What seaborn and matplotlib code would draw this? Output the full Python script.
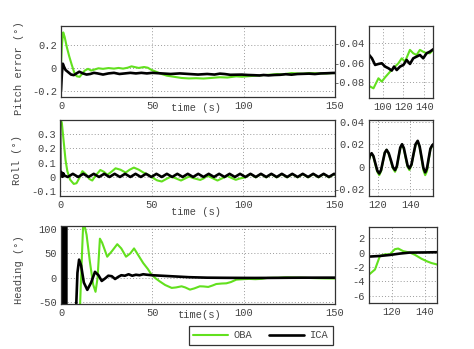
import matplotlib
matplotlib.use("Agg")
import matplotlib.pyplot as plt
import seaborn as sns
import pandas as pd
from matplotlib.ticker import FuncFormatter

# ---------------- data ----------------
series_names = ["OBA", "ICA"]
series_colors = {"OBA": "#62e01e", "ICA": "#000000"}

# Pitch error (deg)
t_pitch_oba = [0, 0.5, 1.2, 2, 3.2, 4.5, 5.8, 7.2, 8.6, 10.2, 11.5, 13, 14.8, 16.5, 18.5, 20.5, 23, 26,
               29, 31.5, 34, 36.5, 38.6, 40.5, 42.5, 45.5, 47.5, 49.6, 52, 55, 58, 62, 66, 70, 74, 78, 82, 85,
               87, 91.1, 95.9, 99.1, 102.3, 107.1, 110.3, 115.1, 118.3, 121.5, 126.2, 129.4, 132.6, 135.8,
               140.6, 145.4, 148.6, 152]
pitch_oba = [0.02, 0.2, 0.31, 0.27, 0.18, 0.1, 0.03, -0.04, -0.075, -0.08, -0.055, -0.025, -0.01, -0.025,
             -0.015, -0.005, -0.01, -0.003, -0.008, -0.002, -0.008, 0.0, 0.012, 0.005, -0.002, 0.006, 0.0,
             -0.02, -0.035, -0.055, -0.07, -0.08, -0.09, -0.094, -0.092, -0.095, -0.09, -0.086,
             -0.0838, -0.0862, -0.0759, -0.0793, -0.0749, -0.0691, -0.0656, -0.0605, -0.0554, -0.0588,
             -0.0468, -0.0503, -0.052, -0.0468, -0.0496, -0.0503, -0.0468, -0.047]

t_pitch_ica = [0, 0.5, 1.0, 1.6, 2.5, 4, 5.5, 7, 8.5, 10, 12, 14, 16, 18, 20, 23, 26, 29, 32, 35, 38, 41,
               44, 47, 50, 55, 60, 65, 70, 75, 80, 84,
               87, 89.6, 92.7, 95.9, 99.1, 102.3, 105.5, 108.7, 110.9, 113.5, 116.7, 119.9, 123, 126.2,
               129.4, 132.6, 135.8, 139, 142.2, 145.4, 148.6, 152]
pitch_ica = [-0.2, -0.05, 0.035, 0.01, -0.02, -0.04, -0.06, -0.065, -0.05, -0.035, -0.05, -0.06, -0.055,
             -0.045, -0.05, -0.06, -0.05, -0.045, -0.055, -0.05, -0.045, -0.05, -0.045, -0.05, -0.045,
             -0.05, -0.055, -0.05, -0.055, -0.06, -0.055, -0.06,
             -0.052, -0.0554, -0.0622, -0.0612, -0.0605, -0.0639, -0.0656, -0.068, -0.0639, -0.0674,
             -0.0639, -0.0622, -0.0571, -0.0612, -0.0554, -0.0537, -0.052, -0.0554, -0.0503, -0.0486,
             -0.0462, -0.045]

# Roll (deg)
t_roll_oba = [0, 1, 2, 3, 4, 5.5, 7.5, 9, 10.5, 12.2, 14, 16, 17.6, 19.5, 22, 24, 25.8, 28, 30.3, 33, 35.8,
              38, 40.3, 43, 45.5, 48.5, 51, 53, 55.5, 58, 60.6, 63, 66, 68.5, 70.4, 73, 76.5, 78.5, 80.4, 83,
              85.9, 88.5, 91.3, 93.5, 95.9, 98, 101.1, 103.9, 106.8, 109.6, 112.5, 115.3, 118.2, 121.0,
              123.9, 126.7, 129.6, 132.4, 135.3, 138.1, 141.0, 143.8, 146.7, 149.5, 152.4]
roll_oba = [0.42, 0.38, 0.25, 0.12, 0.04, -0.02, -0.05, -0.045, -0.01, 0.04, 0.02, -0.015, -0.026, 0.01,
            0.048, 0.035, 0.014, 0.035, 0.06, 0.05, 0.03, 0.05, 0.065, 0.05, 0.03, 0.012, -0.01, -0.025,
            -0.033, -0.015, 0.002, -0.01, -0.026, -0.01, 0.002, -0.01, -0.022, -0.01, 0.008, -0.008,
            -0.026, -0.01, 0.006, -0.008, -0.021, -0.012, -0.004, 0.02, -0.004, 0.02, -0.004, 0.02,
            -0.004, 0.02, -0.004, 0.02, -0.004, 0.02, -0.004, 0.02, -0.004, 0.02, -0.004, 0.02, -0.004]

t_roll_ica = [0, 0.15, 0.4, 0.7, 1.0, 1.4, 1.8, 2.3,
              4.2, 7.0, 9.9, 12.7, 15.6, 18.4, 21.3, 24.1, 27.0, 29.8, 32.7, 35.5, 38.4, 41.2, 44.1, 46.9,
              49.8, 52.6, 55.5, 58.3, 61.2, 64.0, 66.9, 69.7, 72.6, 75.4, 78.3, 81.1, 84.0, 86.8, 89.7,
              92.5, 95.4, 98.2, 101.1, 103.9, 106.8, 109.6, 112.5, 115.3, 118.2, 121.0, 123.9, 126.7,
              129.6, 132.4, 135.3, 138.1, 141.0, 143.8, 146.7, 149.5, 152.4]
roll_ica = [0.45, 0.0, 0.035, 0.01, 0.03, 0.0, 0.025, 0.01,
            -0.001, 0.021, -0.001, 0.021, -0.001, 0.021, -0.001, 0.021, -0.001, 0.021, -0.001, 0.021,
            -0.001, 0.021, -0.001, 0.021, -0.001, 0.021, -0.001, 0.021, -0.001, 0.021, -0.001, 0.021,
            -0.001, 0.021, -0.001, 0.021, -0.001, 0.021, -0.001, 0.021, -0.001, 0.021, -0.001, 0.021,
            -0.001, 0.021, -0.001, 0.021, -0.001, 0.021, -0.001, 0.021, -0.001, 0.021, -0.001, 0.021,
            -0.001, 0.021, -0.001, 0.021, -0.001]

# Roll zoom (inset)
t_roll_zoom = [114.3, 115.3, 116.3, 117.4, 118.6, 119.8, 121.0, 122.1, 123.2, 124.4, 125.5, 126.8, 128.1,
               129.4, 130.7, 131.8, 132.8, 133.9, 135.0, 136.1, 137.2, 138.4, 139.5, 140.8, 142.0, 143.3,
               144.6, 145.8, 146.9, 148.1, 149.2, 150.3, 151.3, 152.4, 153.5, 155.0]
roll_zoom_ica = [0.0045, 0.010, 0.012, 0.0095, 0.003, -0.0035, -0.006, -0.003, 0.0045, 0.0125, 0.015,
                 0.012, 0.006, -0.0005, -0.003, 0.0005, 0.0085, 0.017, 0.020, 0.0165, 0.009, 0.001,
                 -0.0015, 0.002, 0.011, 0.020, 0.023, 0.018, 0.009, -0.001, -0.005, -0.0015, 0.007, 0.016,
                 0.019, 0.021]
roll_zoom_oba = [0.004, 0.0095, 0.0115, 0.009, 0.002, -0.0045, -0.0075, -0.004, 0.004, 0.0125, 0.015,
                 0.0115, 0.005, -0.0015, -0.0045, -0.0005, 0.008, 0.0165, 0.0195, 0.016, 0.008, 0.0,
                 -0.003, 0.0015, 0.0105, 0.0195, 0.0225, 0.0175, 0.008, -0.003, -0.0075, -0.004, 0.006,
                 0.0155, 0.0185, 0.0205]

# Heading (deg)
t_head_oba = [0, 0.6, 1.0, 5, 9.5, 10.5, 11.5, 12.2, 13, 14, 15.8, 17.6, 18.9, 20, 21.3, 22.5, 25.3, 28,
              30.8, 33, 35.6, 38, 40, 42.5, 45, 47.5, 49.6, 52, 54, 57, 60.6, 63, 66, 68, 70.6, 73, 76, 78,
              80.6, 83, 85, 88, 90.5, 93, 96, 100, 103, 106.4, 110, 113, 116, 119, 122, 124, 127, 131, 134,
              138, 141, 144, 147.4, 152]
head_oba = [150, 150, -150, -150, -140, -50, 50, 115, 105, 88, 33, -14, -29, -1, 80, 72, 43, 55, 68.7, 60,
            43, 50, 60, 45, 30, 18, 6, -2, -7.5, -15, -21, -20, -17.7, -20, -24.5, -22, -17.7, -18, -19,
            -16, -13, -12, -11.6, -9, -4, -3, -2.5, -3.06, -2.35, -0.47, -0.24, -0.24, 0.47, 0.56, 0.2, 0,
            -0.3, -0.85, -1.18, -1.45, -1.65, -1.9]

t_head_ica = [0, 0.25, 0.5, 0.75, 1.0, 1.25, 1.5, 1.75, 2.0, 2.25, 2.5, 2.75, 3.0, 3.3, 7.8, 8.3, 9.0, 9.9,
              11, 12.5, 14.4, 16.5, 18.6, 20.5, 22.3, 24, 25.9, 27.8, 29.6, 31.5, 33, 35, 37, 39, 41, 43,
              45, 47, 50, 55, 60, 65, 70, 75, 80, 90, 100, 106.4, 113, 119, 125, 131, 140, 147.4, 152]
head_ica = [-150, 150, -150, 150, -150, 150, -150, 150, -150, 150, -150, 150, -150, -150, -150, -60, 10,
            37, 25, -10, -25, -10, 12, 5, -6.7, -2, 4, 3, -2.7, 2, 5, 4, 7, 4, 6, 5, 7, 6, 5, 4, 3, 2, 1,
            0.5, 0, -0.3, -0.5, -0.56, -0.47, -0.33, -0.14, 0, 0.02, 0.05, 0.05]

# tick values
main_xticks = [0, 50, 100, 150]
pitch_yticks = [-0.2, 0, 0.2]
roll_yticks = [-0.1, 0, 0.1, 0.2, 0.3]
head_yticks = [-50, 0, 50, 100]
pitch_zoom_xticks = [100, 120, 140]
pitch_zoom_yticks = [-0.08, -0.06, -0.04]
roll_zoom_xticks = [120, 140]
roll_zoom_yticks = [-0.02, 0, 0.02, 0.04]
head_zoom_xticks = [120, 140]
head_zoom_yticks = [-6, -4, -2, 0, 2]

ylabels = ["Pitch error (°)", "Roll (°)", "Heading (°)"]
xlabels = ["time (s)", "time (s)", "time(s)"]

# ---------------- style ----------------
sns.set_theme(style="white")
plt.rcParams["font.family"] = ["Liberation Mono", "DejaVu Sans Mono"]
plt.rcParams["axes.unicode_minus"] = False
plt.rcParams["lines.solid_joinstyle"] = "round"
plt.rcParams["lines.solid_capstyle"] = "round"
FS = 7.5
plt.rcParams["font.size"] = FS

fig = plt.figure(figsize=(4.74, 3.49), dpi=100)
W, H = 474.0, 349.0


def add_ax(l, r, t, b):
    return fig.add_axes([l / W, 1 - b / H, (r - l) / W, (b - t) / H])


ax1 = add_ax(61, 335, 26, 97)
ax2 = add_ax(60, 335, 120, 196)
ax3 = add_ax(61, 335, 226, 304)
in1 = add_ax(369, 433, 26, 98)
in2 = add_ax(369, 433, 120, 196)
in3 = add_ax(369, 437, 227, 303)


def draw(ax, t1, y1, t2, y2, label=False):
    df1 = pd.DataFrame({"t": t1, "v": y1})
    df2 = pd.DataFrame({"t": t2, "v": y2})
    sns.lineplot(data=df1, x="t", y="v", ax=ax, color=series_colors["OBA"], lw=1.5,
                 estimator=None, sort=False, label="OBA" if label else None, legend=False)
    sns.lineplot(data=df2, x="t", y="v", ax=ax, color=series_colors["ICA"], lw=1.9,
                 estimator=None, sort=False, label="ICA" if label else None, legend=False)


def style(ax, xlim, ylim, xticks, yticks):
    ax.set_xlim(*xlim)
    ax.set_ylim(*ylim)
    ax.set_xticks(xticks)
    ax.set_yticks(yticks)
    fmt = FuncFormatter(lambda v, p: ("%g" % round(v, 6)))
    ax.xaxis.set_major_formatter(fmt)
    ax.yaxis.set_major_formatter(fmt)
    ax.grid(True, color="#9a9a9a", linestyle=(0, (1, 2.2)), linewidth=0.7)
    for s in ax.spines.values():
        s.set_color("#333333")
        s.set_linewidth(0.9)
        s.set_visible(True)
    ax.tick_params(direction="in", length=2, width=0.6, labelsize=FS, pad=3, colors="#333333",
                   labelcolor="#444444")
    ax.set_xlabel("")
    ax.set_ylabel("")


draw(ax1, t_pitch_oba, pitch_oba, t_pitch_ica, pitch_ica)
draw(in1, t_pitch_oba, pitch_oba, t_pitch_ica, pitch_ica)
draw(ax2, t_roll_oba, roll_oba, t_roll_ica, roll_ica)
draw(in2, t_roll_zoom, roll_zoom_oba, t_roll_zoom, roll_zoom_ica)
draw(ax3, t_head_oba, head_oba, t_head_ica, head_ica, label=True)
draw(in3, t_head_oba, head_oba, t_head_ica, head_ica)

style(ax1, (0, 150), (-0.257, 0.366), main_xticks, pitch_yticks)
style(ax2, (0, 150), (-0.135, 0.4), main_xticks, roll_yticks)
style(ax3, (0, 150), (-54, 106), main_xticks, head_yticks)
style(in1, (86.8, 148.4), (-0.0961, -0.0223), pitch_zoom_xticks, pitch_zoom_yticks)
style(in2, (114.7, 154), (-0.026, 0.0415), roll_zoom_xticks, roll_zoom_yticks)
style(in3, (106.4, 147.4), (-7.0, 3.55), head_zoom_xticks, head_zoom_yticks)

# axis labels
for ax, xl, yl, xy, yy in [(ax1, xlabels[0], ylabels[0], -0.159, 0.41),
                           (ax2, xlabels[1], ylabels[1], -0.207, 0.47),
                           (ax3, xlabels[2], ylabels[2], -0.135, 0.44)]:
    ax.set_xlabel(xl, fontsize=FS, color="#444444")
    ax.xaxis.set_label_coords(0.4945 if ax is not ax3 else 0.507, xy)
    ax.xaxis.label.set_verticalalignment("center")
    ax.set_ylabel(yl, fontsize=FS, color="#444444")
    ax.yaxis.set_label_coords(-0.155, yy)
    ax.yaxis.label.set_verticalalignment("center")

handles, labels = ax3.get_legend_handles_labels()
leg = fig.legend(handles, labels, loc="center", bbox_to_anchor=(261 / W, 1 - 335.5 / H), ncol=2,
                 frameon=True, fancybox=False, edgecolor="black", fontsize=FS, handlelength=3.3,
                 columnspacing=1.6, borderpad=0.45, handletextpad=0.6)
leg.get_frame().set_linewidth(0.9)
for txt in leg.get_texts():
    txt.set_color("#444444")

fig.savefig("out.png", dpi=100)
